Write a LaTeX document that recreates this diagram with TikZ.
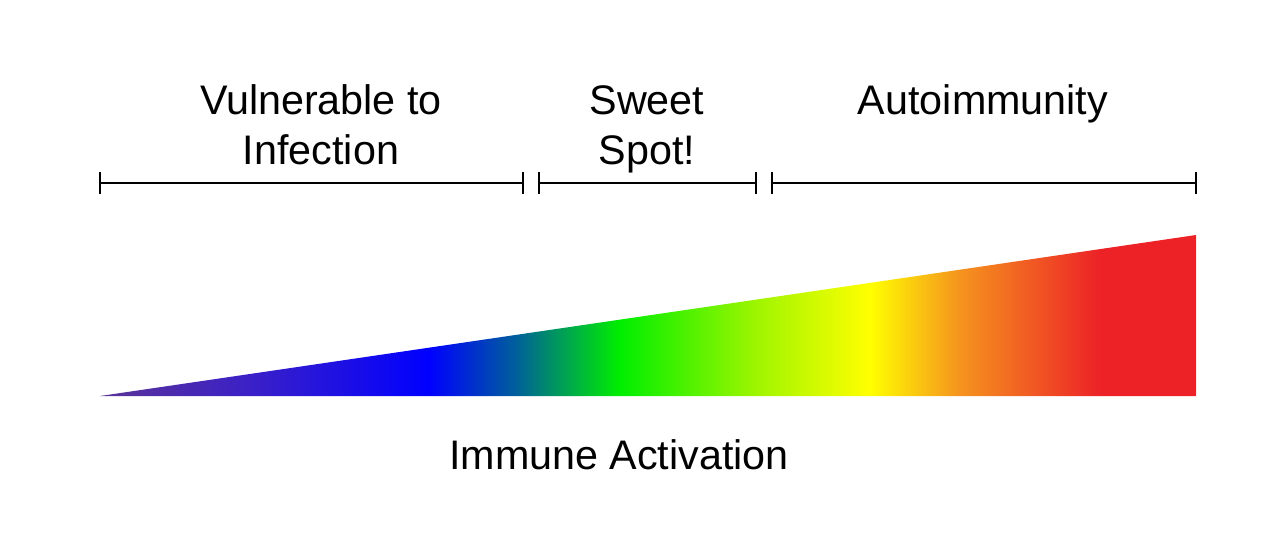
\documentclass[tikz,border=0pt]{standalone}
\usepackage{fontspec}
\setmainfont{Liberation Sans}
\definecolor{c1}{HTML}{5B3496}
\definecolor{c2}{HTML}{3A20C8}
\definecolor{c3}{HTML}{0000FF}
\definecolor{c4}{HTML}{00609A}
\definecolor{c5}{HTML}{00EE00}
\definecolor{c6}{HTML}{A0F500}
\definecolor{c7}{HTML}{FFFF00}
\definecolor{c8}{HTML}{F5941E}
\definecolor{c9}{HTML}{EC2227}
\pgfdeclarehorizontalshading{rainbow}{100bp}{
 color(0bp)=(c1); color(25bp)=(c1); color(32bp)=(c2); color(40bp)=(c3);
 color(44bp)=(c4); color(48.7bp)=(c5); color(55bp)=(c6); color(60.1bp)=(c7);
 color(64.2bp)=(c8); color(70.6bp)=(c9); color(75bp)=(c9); color(100bp)=(c9)}
\begin{document}
\begin{tikzpicture}[x=0.02cm,y=-0.02cm,
 lbl/.style={font=\fontsize{23.5}{28.3}\selectfont,align=center,inner sep=0pt},
 bar/.style={line width=1.2pt},
 tick/.style={line width=1.2pt}]
\useasboundingbox (0,0) rectangle (1271,552);
\coordinate (tl) at (100,396);
\coordinate (br) at (1196,396);
\coordinate (tr) at (1196,235);
\shade[shading=rainbow] (tl) -- (br) -- (tr) -- cycle;
\foreach \a/\b/\n in {100/523/a,539/756/b,772/1196/c}{
 \coordinate (\n1) at (\a,183); \coordinate (\n2) at (\b,183);
 \draw[bar] (\n1) -- (\n2);
 \draw[tick] (\a,172) -- (\a,194);
 \draw[tick] (\b,172) -- (\b,194);
}
\node[lbl,anchor=base] (v) at (321,164) {Vulnerable to\\Infection};
\node[lbl,anchor=base] (s) at (647,164) {Sweet\\Spot!};
\node[lbl,anchor=base] (au) at (983,114) {Autoimmunity};
\node[lbl,anchor=base] (im) at (619,469) {Immune Activation};
\end{tikzpicture}
\end{document}
